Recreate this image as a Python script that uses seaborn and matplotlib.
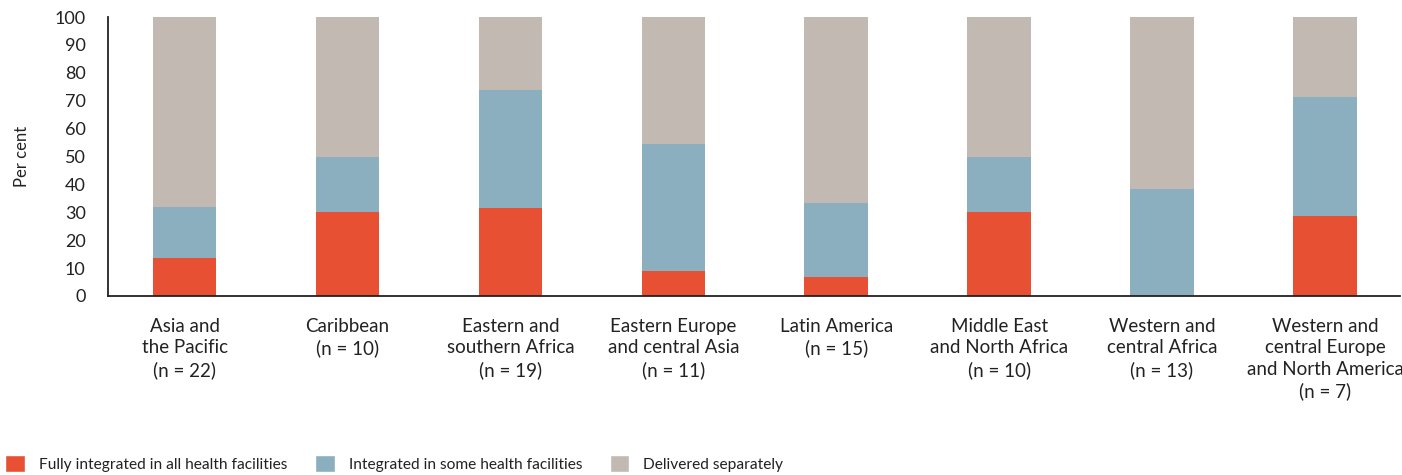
import numpy as np
import pandas as pd
import matplotlib
matplotlib.use('Agg')
import matplotlib.pyplot as plt
import seaborn as sns
from matplotlib.patches import Patch

# 지역별 통합 수준 (%)
regions = [
    'Asia and\nthe Pacific\n(n = 22)',
    'Caribbean\n(n = 10)',
    'Eastern and\nsouthern Africa\n(n = 19)',
    'Eastern Europe\nand central Asia\n(n = 11)',
    'Latin America\n(n = 15)',
    'Middle East\nand North Africa\n(n = 10)',
    'Western and\ncentral Africa\n(n = 13)',
    'Western and\ncentral Europe\nand North America\n(n = 7)',
]
fully = [13.6, 30.0, 31.6, 9.1, 6.7, 30.0, 0.0, 28.6]
some = [18.2, 20.0, 42.1, 45.4, 26.6, 20.0, 38.5, 42.8]
separate = [68.2, 50.0, 26.3, 45.5, 66.7, 50.0, 61.5, 28.6]

series_labels = ['Fully integrated in all health facilities',
                 'Integrated in some health facilities',
                 'Delivered separately']
colors = ['#E85034', '#8BAFBF', '#C2B9B3']

df = pd.DataFrame({'region': regions, 'fully': fully, 'some': some, 'separate': separate})
df['top_some'] = df['fully'] + df['some']
df['top_all'] = df['top_some'] + df['separate']

sns.set_style('white')
plt.rcParams['font.family'] = ['Lato', 'DejaVu Sans']

fig = plt.figure(figsize=(14.02, 4.75), dpi=100)
ax = fig.add_axes([0.077, 0.377, 0.9215, 0.587])

# 누적 막대: 뒤에서부터 겹쳐 그리기
bw = 0.39
kw = dict(saturation=1, width=bw, linewidth=0, ax=ax)
sns.barplot(data=df, x='region', y='top_all', color=colors[2], **kw)
sns.barplot(data=df, x='region', y='top_some', color=colors[1], **kw)
sns.barplot(data=df, x='region', y='fully', color=colors[0], **kw)

ax.set_ylim(0, 100)
ax.set_xlim(-0.47, 7.46)
ax.set_yticks(range(0, 101, 10))
ax.set_xlabel('')
ax.set_ylabel('Per cent', fontsize=12, color='#222222', labelpad=18)
ax.tick_params(axis='y', length=0, pad=16, labelsize=13, labelcolor='#222222')
ax.tick_params(axis='x', length=0, pad=16, labelsize=13.5, labelcolor='#222222')
for lab in ax.get_xticklabels():
    lab.set_linespacing(1.3)

sns.despine(ax=ax)
for side in ['left', 'bottom']:
    ax.spines[side].set_color('#222222')
    ax.spines[side].set_linewidth(1.3)

handles = [Patch(facecolor=c, label=l) for c, l in zip(colors, series_labels)]
fig.legend(handles=handles, loc='lower left', bbox_to_anchor=(-0.004, -0.016), ncol=3,
           frameon=False, fontsize=11.2, handlelength=1.25, handleheight=1.25,
           borderaxespad=0.3, handletextpad=0.9, columnspacing=1.8, labelcolor='#222222')

fig.savefig('out.png', dpi=100)
